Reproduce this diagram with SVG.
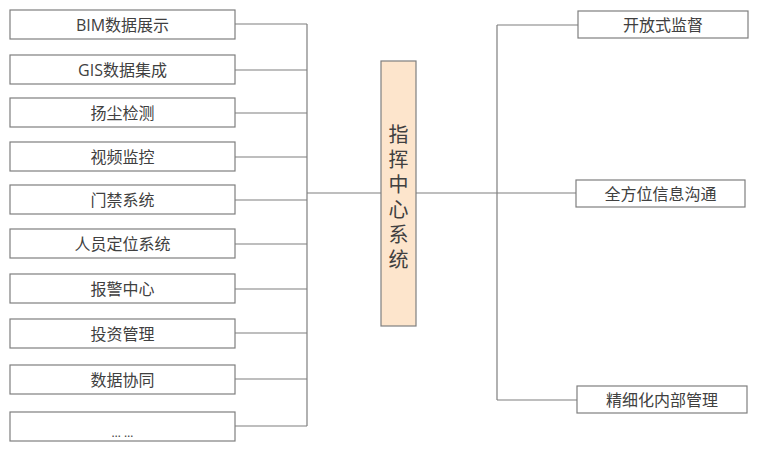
<svg xmlns="http://www.w3.org/2000/svg" width="758" height="452" viewBox="0 0 758 452">
<style>
.box{fill:#ffffff;stroke:#7f7f7f;stroke-width:1.2}
.center{fill:#fde5cc;stroke:#7f7f7f;stroke-width:1.2}
.lbl{font-family:"Open Sans","Noto Sans CJK SC",sans-serif;font-size:16px;fill:#404040;text-anchor:middle;dominant-baseline:central}
.big{font-family:"Noto Sans CJK SC",sans-serif;font-size:20px;fill:#404040;text-anchor:middle;writing-mode:vertical-rl;letter-spacing:5px}
.ln{fill:none;stroke:#7f7f7f;stroke-width:1.2}
</style>
<rect width="758" height="452" fill="#ffffff"/>
<g id="connectors">
<path class="ln" d="M235 24H307M235 70H307M235 113H307M235 157H307M235 200H307M235 244H307M235 289H307M235 333H307M235 379H307M235 426H307M307 24V426M307 193H381"/>
<path class="ln" d="M416 193H497M497 25V400M497 25H578M497 193H576M497 400H577"/>
</g>
<g id="n1"><rect class="box" x="10" y="10" width="225" height="29"/><text class="lbl" x="122.5" y="24.5">BIM数据展示</text></g>
<g id="n2"><rect class="box" x="10" y="55" width="225" height="29"/><text class="lbl" x="122.5" y="69.5">GIS数据集成</text></g>
<g id="n3"><rect class="box" x="10" y="98" width="225" height="29"/><text class="lbl" x="122.5" y="112.5">扬尘检测</text></g>
<g id="n4"><rect class="box" x="10" y="142" width="225" height="29"/><text class="lbl" x="122.5" y="156.5">视频监控</text></g>
<g id="n5"><rect class="box" x="10" y="185" width="225" height="29"/><text class="lbl" x="122.5" y="199.5">门禁系统</text></g>
<g id="n6"><rect class="box" x="10" y="229" width="225" height="29"/><text class="lbl" x="122.5" y="243.5">人员定位系统</text></g>
<g id="n7"><rect class="box" x="10" y="274" width="225" height="29"/><text class="lbl" x="122.5" y="288.5">报警中心</text></g>
<g id="n8"><rect class="box" x="10" y="319" width="225" height="29"/><text class="lbl" x="122.5" y="333.5">投资管理</text></g>
<g id="n9"><rect class="box" x="10" y="365" width="225" height="29"/><text class="lbl" x="122.5" y="379.5">数据协同</text></g>
<g id="n10"><rect class="box" x="10" y="412" width="225" height="29"/><text class="lbl" x="122.5" y="432" style="font-size:12px">…  …</text></g>
<g id="center"><rect class="center" x="381" y="61" width="35" height="265"/>
<text class="big" x="398.5" y="199">指挥中心系统</text></g>
<g id="r1"><rect class="box" x="578" y="11" width="170" height="27"/><text class="lbl" x="663" y="24.5">开放式监督</text></g>
<g id="r2"><rect class="box" x="576" y="180" width="169" height="27"/><text class="lbl" x="660.5" y="193.5">全方位信息沟通</text></g>
<g id="r3"><rect class="box" x="577" y="386" width="170" height="27"/><text class="lbl" x="662" y="399.5">精细化内部管理</text></g>
</svg>
